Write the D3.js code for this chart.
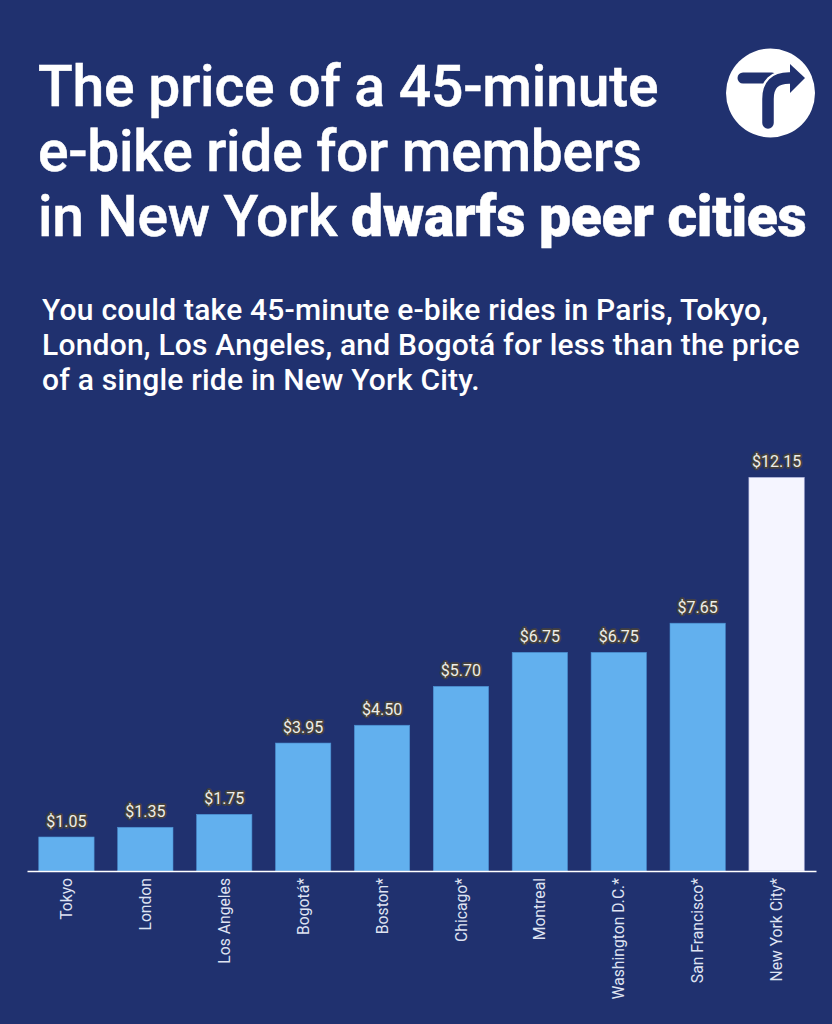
<!DOCTYPE html>
<html>
<head>
<meta charset="utf-8">
<script src="https://cdn.jsdelivr.net/npm/d3@7/dist/d3.min.js"></script>
<style>
  html, body { margin: 0; padding: 0; background: #20316f; }
  svg { display: block; }
  text { font-family: Roboto, sans-serif; }
</style>
</head>
<body>
<script>
// Member price of a 45-minute e-bike ride, by city
const cities = ["Tokyo", "London", "Los Angeles", "Bogotá*", "Boston*", "Chicago*", "Montreal", "Washington D.C.*", "San Francisco*", "New York City*"];
const prices = [1.05, 1.35, 1.75, 3.95, 4.50, 5.70, 6.75, 6.75, 7.65, 12.15];
const highlightCity = "New York City*";

const titleLines = [
  [["The price of a 45-minute", 500, -0.2]],
  [["e-bike ride for members", 500, -0.3]],
  [["in New York ", 500, -0.35], ["dwarfs peer cities", 900, -0.3]]
];
const subtitleLines = [
  "You could take 45-minute e-bike rides in Paris, Tokyo,",
  "London, Los Angeles, and Bogotá for less than the price",
  "of a single ride in New York City."
];

const width = 832, height = 1024;
const navy = "#20316f", barBlue = "#62b0ee", barWhite = "#f5f5ff";

const svg = d3.select("body").append("svg")
  .attr("width", width).attr("height", height)
  .attr("viewBox", [0, 0, width, height]);

svg.append("rect").attr("width", width).attr("height", height).attr("fill", navy);

// Headline, thickened slightly with a hairline stroke
const title = svg.append("g").attr("fill", "#fff").attr("stroke", "#fff").attr("stroke-width", 0.5);
titleLines.forEach((runs, i) => {
  const t = title.append("text")
    .attr("x", 38).attr("y", 105.5 + i * 65)
    .attr("font-size", 57);
  runs.forEach(([s, w, ls]) => t.append("tspan")
    .attr("font-weight", w).attr("letter-spacing", ls).text(s));
});

// Standfirst
svg.append("g").selectAll("text").data(subtitleLines).join("text")
  .attr("x", 42).attr("y", (d, i) => 320 + i * 35)
  .attr("fill", "#fff")
  .attr("font-size", 30)
  .attr("font-weight", 500)
  .attr("letter-spacing", 0.21)
  .text(d => d);

// Logo: white disc with a knocked-out turn arrow
const logo = svg.append("g");
logo.append("circle").attr("cx", 770.5).attr("cy", 93).attr("r", 44.5).attr("fill", "#fff");
logo.append("path")
  .attr("d", "M743,78 H772")
  .attr("fill", "none").attr("stroke", navy).attr("stroke-width", 11).attr("stroke-linecap", "round");
logo.append("path")
  .attr("d", "M768,123 V99 Q768,78 789,78 H792")
  .attr("fill", "none").attr("stroke", "#fff").attr("stroke-width", 16);
logo.append("path")
  .attr("d", "M768,123 V99 Q768,78 789,78 H792")
  .attr("fill", "none").attr("stroke", navy).attr("stroke-width", 11.5).attr("stroke-linecap", "round");
logo.append("path").attr("d", "M790,64 L805,78 L790,93 Z").attr("fill", navy);

// Bars
const x = d3.scaleBand().domain(cities).range([27, 816]).paddingInner(0.2987).paddingOuter(0.149);
const y = d3.scaleLinear().domain([0, 12.15]).range([871, 477.4]);

const rows = cities.map((c, i) => ({ city: c, price: prices[i] }));

svg.append("g").selectAll("rect").data(rows).join("rect")
  .attr("x", d => x(d.city))
  .attr("y", d => y(d.price))
  .attr("width", x.bandwidth())
  .attr("height", d => y(0) - y(d.price))
  .attr("fill", d => d.city === highlightCity ? barWhite : barBlue)
  .attr("stroke", d => d.city === highlightCity ? "#b4b8e0" : "#4a8ed0")
  .attr("stroke-width", 0.6);

// Value labels with a dark halo
svg.append("g").selectAll("text").data(rows).join("text")
  .attr("x", d => x(d.city) + x.bandwidth() / 2)
  .attr("y", d => y(d.price) - 10)
  .attr("text-anchor", "middle")
  .attr("font-size", 16)
  .attr("fill", "#efefea")
  .attr("stroke", "#45423f")
  .attr("stroke-width", 3.5)
  .attr("stroke-linejoin", "round")
  .attr("paint-order", "stroke")
  .text(d => d3.format("$.2f")(d.price));

// Category axis
const axis = svg.append("g")
  .attr("transform", `translate(0,${y(0)})`)
  .call(d3.axisBottom(x).tickSize(0).tickPadding(0));
axis.select(".domain").attr("stroke", "#fff").attr("stroke-width", 1.5);
axis.selectAll("text")
  .attr("font-family", "Roboto, sans-serif")
  .attr("font-size", 15.7)
  .attr("fill", "#dfe3f2")
  .attr("text-anchor", "end")
  .attr("dominant-baseline", "middle")
  .attr("dy", 0)
  .attr("transform", "translate(1.5,7) rotate(-90)");
</script>
</body>
</html>
